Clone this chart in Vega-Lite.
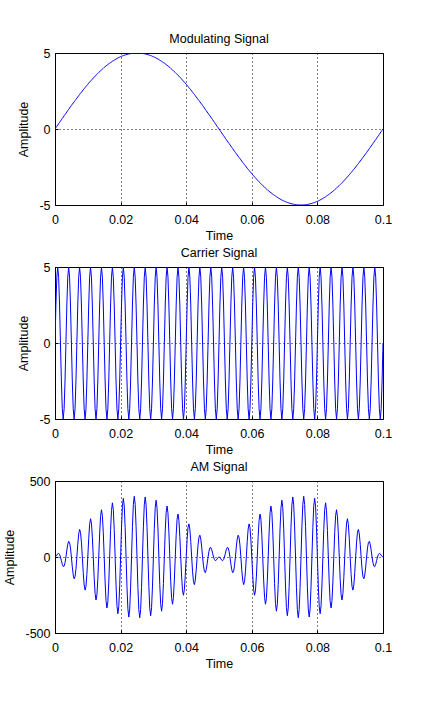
{
  "$schema": "https://vega.github.io/schema/vega-lite/v6.json",
  "description": "Modulating, carrier and AM signals",
  "padding": {"left": 3, "top": 32, "right": 5, "bottom": 5},
  "background": "white",
  "config": {
    "font": "Liberation Sans",
    "view": {"stroke": "black", "strokeWidth": 1},
    "axis": {
      "grid": true,
      "gridColor": "black",
      "gridDash": [1, 3],
      "gridOpacity": 1,
      "gridWidth": 1,
      "domain": false,
      "ticks": true,
      "tickColor": "black",
      "tickSize": -3,
      "labelFont": "Liberation Sans",
      "labelFontSize": 12.5,
      "labelColor": "black",
      "labelFlush": false,
      "titleFont": "Liberation Sans",
      "titleFontSize": 12.5,
      "titleFontWeight": "normal",
      "titleColor": "black"
    },
    "axisX": {"labelPadding": 11, "titlePadding": 4},
    "axisY": {"labelPadding": 8, "titlePadding": 8},
    "title": {"font": "Liberation Sans", "fontSize": 12.5, "fontWeight": "normal", "color": "black", "offset": 1.5, "anchor": "middle", "frame": "group"},
    "line": {"color": "#0000ff", "strokeWidth": 1}
  },
  "datasets": {
    "sig": [
      {"t":0,"mod":0,"car":0,"am":0},
      {"t":0.000278,"mod":0.09,"car":2.5,"am":3.5},
      {"t":0.000556,"mod":0.17,"car":4.33,"am":12.1},
      {"t":0.000833,"mod":0.26,"car":5,"am":20.9},
      {"t":0.001111,"mod":0.35,"car":4.33,"am":24.2},
      {"t":0.001389,"mod":0.44,"car":2.5,"am":17.4},
      {"t":0.001667,"mod":0.52,"car":0,"am":0},
      {"t":0.001944,"mod":0.61,"car":-2.5,"am":-24.4},
      {"t":0.002222,"mod":0.7,"car":-4.33,"am":-48.2},
      {"t":0.0025,"mod":0.78,"car":-5,"am":-62.6},
      {"t":0.002778,"mod":0.87,"car":-4.33,"am":-60.1},
      {"t":0.003056,"mod":0.95,"car":-2.5,"am":-38.2},
      {"t":0.003333,"mod":1.04,"car":0,"am":0},
      {"t":0.003611,"mod":1.12,"car":2.5,"am":45},
      {"t":0.003889,"mod":1.21,"car":4.33,"am":83.8},
      {"t":0.004167,"mod":1.29,"car":5,"am":103.5},
      {"t":0.004444,"mod":1.38,"car":4.33,"am":95.5},
      {"t":0.004722,"mod":1.46,"car":2.5,"am":58.5},
      {"t":0.005,"mod":1.55,"car":0,"am":0},
      {"t":0.005278,"mod":1.63,"car":-2.5,"am":-65.1},
      {"t":0.005556,"mod":1.71,"car":-4.33,"am":-118.5},
      {"t":0.005833,"mod":1.79,"car":-5,"am":-143.4},
      {"t":0.006111,"mod":1.87,"car":-4.33,"am":-129.8},
      {"t":0.006389,"mod":1.95,"car":-2.5,"am":-78.1},
      {"t":0.006667,"mod":2.03,"car":0,"am":0},
      {"t":0.006944,"mod":2.11,"car":2.5,"am":84.5},
      {"t":0.007222,"mod":2.19,"car":4.33,"am":151.9},
      {"t":0.0075,"mod":2.27,"car":5,"am":181.6},
      {"t":0.007778,"mod":2.35,"car":4.33,"am":162.6},
      {"t":0.008056,"mod":2.42,"car":2.5,"am":97},
      {"t":0.008333,"mod":2.5,"car":0,"am":0},
      {"t":0.008611,"mod":2.58,"car":-2.5,"am":-103},
      {"t":0.008889,"mod":2.65,"car":-4.33,"am":-183.6},
      {"t":0.009167,"mod":2.72,"car":-5,"am":-217.8},
      {"t":0.009444,"mod":2.8,"car":-4.33,"am":-193.7},
      {"t":0.009722,"mod":2.87,"car":-2.5,"am":-114.7},
      {"t":0.01,"mod":2.94,"car":0,"am":0},
      {"t":0.010278,"mod":3.01,"car":2.5,"am":120.4},
      {"t":0.010556,"mod":3.08,"car":4.33,"am":213.3},
      {"t":0.010833,"mod":3.15,"car":5,"am":251.7},
      {"t":0.011111,"mod":3.21,"car":4.33,"am":222.7},
      {"t":0.011389,"mod":3.28,"car":2.5,"am":131.2},
      {"t":0.011667,"mod":3.35,"car":0,"am":0},
      {"t":0.011944,"mod":3.41,"car":-2.5,"am":-136.4},
      {"t":0.012222,"mod":3.47,"car":-4.33,"am":-240.6},
      {"t":0.0125,"mod":3.54,"car":-5,"am":-282.8},
      {"t":0.012778,"mod":3.6,"car":-4.33,"am":-249.2},
      {"t":0.013056,"mod":3.66,"car":-2.5,"am":-146.3},
      {"t":0.013333,"mod":3.72,"car":0,"am":0},
      {"t":0.013611,"mod":3.77,"car":2.5,"am":150.9},
      {"t":0.013889,"mod":3.83,"car":4.33,"am":265.3},
      {"t":0.014167,"mod":3.89,"car":5,"am":310.8},
      {"t":0.014444,"mod":3.94,"car":4.33,"am":273},
      {"t":0.014722,"mod":3.99,"car":2.5,"am":159.7},
      {"t":0.015,"mod":4.05,"car":0,"am":0},
      {"t":0.015278,"mod":4.1,"car":-2.5,"am":-163.8},
      {"t":0.015556,"mod":4.15,"car":-4.33,"am":-287.2},
      {"t":0.015833,"mod":4.19,"car":-5,"am":-335.5},
      {"t":0.016111,"mod":4.24,"car":-4.33,"am":-293.7},
      {"t":0.016389,"mod":4.29,"car":-2.5,"am":-171.4},
      {"t":0.016667,"mod":4.33,"car":0,"am":0},
      {"t":0.016944,"mod":4.37,"car":2.5,"am":174.9},
      {"t":0.017222,"mod":4.41,"car":4.33,"am":305.8},
      {"t":0.0175,"mod":4.46,"car":5,"am":356.4},
      {"t":0.017778,"mod":4.49,"car":4.33,"am":311.3},
      {"t":0.018056,"mod":4.53,"car":2.5,"am":181.3},
      {"t":0.018333,"mod":4.57,"car":0,"am":0},
      {"t":0.018611,"mod":4.6,"car":-2.5,"am":-184.1},
      {"t":0.018889,"mod":4.64,"car":-4.33,"am":-321.2},
      {"t":0.019167,"mod":4.67,"car":-5,"am":-373.4},
      {"t":0.019444,"mod":4.7,"car":-4.33,"am":-325.5},
      {"t":0.019722,"mod":4.73,"car":-2.5,"am":-189.1},
      {"t":0.02,"mod":4.76,"car":0,"am":0},
      {"t":0.020278,"mod":4.78,"car":2.5,"am":191.3},
      {"t":0.020556,"mod":4.81,"car":4.33,"am":333},
      {"t":0.020833,"mod":4.83,"car":5,"am":386.4},
      {"t":0.021111,"mod":4.85,"car":4.33,"am":336.1},
      {"t":0.021389,"mod":4.87,"car":2.5,"am":194.9},
      {"t":0.021667,"mod":4.89,"car":0,"am":0},
      {"t":0.021944,"mod":4.91,"car":-2.5,"am":-196.3},
      {"t":0.022222,"mod":4.92,"car":-4.33,"am":-341.1},
      {"t":0.0225,"mod":4.94,"car":-5,"am":-395.1},
      {"t":0.022778,"mod":4.95,"car":-4.33,"am":-343},
      {"t":0.023056,"mod":4.96,"car":-2.5,"am":-198.5},
      {"t":0.023333,"mod":4.97,"car":0,"am":0},
      {"t":0.023611,"mod":4.98,"car":2.5,"am":199.2},
      {"t":0.023889,"mod":4.99,"car":4.33,"am":345.6},
      {"t":0.024167,"mod":4.99,"car":5,"am":399.4},
      {"t":0.024444,"mod":5,"car":4.33,"am":346.2},
      {"t":0.024722,"mod":5,"car":2.5,"am":200},
      {"t":0.025,"mod":5,"car":0,"am":0},
      {"t":0.025278,"mod":5,"car":-2.5,"am":-200},
      {"t":0.025556,"mod":5,"car":-4.33,"am":-346.2},
      {"t":0.025833,"mod":4.99,"car":-5,"am":-399.4},
      {"t":0.026111,"mod":4.99,"car":-4.33,"am":-345.6},
      {"t":0.026389,"mod":4.98,"car":-2.5,"am":-199.2},
      {"t":0.026667,"mod":4.97,"car":0,"am":0},
      {"t":0.026944,"mod":4.96,"car":2.5,"am":198.5},
      {"t":0.027222,"mod":4.95,"car":4.33,"am":343},
      {"t":0.0275,"mod":4.94,"car":5,"am":395.1},
      {"t":0.027778,"mod":4.92,"car":4.33,"am":341.1},
      {"t":0.028056,"mod":4.91,"car":2.5,"am":196.3},
      {"t":0.028333,"mod":4.89,"car":0,"am":0},
      {"t":0.028611,"mod":4.87,"car":-2.5,"am":-194.9},
      {"t":0.028889,"mod":4.85,"car":-4.33,"am":-336.1},
      {"t":0.029167,"mod":4.83,"car":-5,"am":-386.4},
      {"t":0.029444,"mod":4.81,"car":-4.33,"am":-333},
      {"t":0.029722,"mod":4.78,"car":-2.5,"am":-191.3},
      {"t":0.03,"mod":4.76,"car":0,"am":0},
      {"t":0.030278,"mod":4.73,"car":2.5,"am":189.1},
      {"t":0.030556,"mod":4.7,"car":4.33,"am":325.5},
      {"t":0.030833,"mod":4.67,"car":5,"am":373.4},
      {"t":0.031111,"mod":4.64,"car":4.33,"am":321.2},
      {"t":0.031389,"mod":4.6,"car":2.5,"am":184.1},
      {"t":0.031667,"mod":4.57,"car":0,"am":0},
      {"t":0.031944,"mod":4.53,"car":-2.5,"am":-181.3},
      {"t":0.032222,"mod":4.49,"car":-4.33,"am":-311.3},
      {"t":0.0325,"mod":4.46,"car":-5,"am":-356.4},
      {"t":0.032778,"mod":4.41,"car":-4.33,"am":-305.8},
      {"t":0.033056,"mod":4.37,"car":-2.5,"am":-174.9},
      {"t":0.033333,"mod":4.33,"car":0,"am":0},
      {"t":0.033611,"mod":4.29,"car":2.5,"am":171.4},
      {"t":0.033889,"mod":4.24,"car":4.33,"am":293.7},
      {"t":0.034167,"mod":4.19,"car":5,"am":335.5},
      {"t":0.034444,"mod":4.15,"car":4.33,"am":287.2},
      {"t":0.034722,"mod":4.1,"car":2.5,"am":163.8},
      {"t":0.035,"mod":4.05,"car":0,"am":0},
      {"t":0.035278,"mod":3.99,"car":-2.5,"am":-159.7},
      {"t":0.035556,"mod":3.94,"car":-4.33,"am":-273},
      {"t":0.035833,"mod":3.89,"car":-5,"am":-310.8},
      {"t":0.036111,"mod":3.83,"car":-4.33,"am":-265.3},
      {"t":0.036389,"mod":3.77,"car":-2.5,"am":-150.9},
      {"t":0.036667,"mod":3.72,"car":0,"am":0},
      {"t":0.036944,"mod":3.66,"car":2.5,"am":146.3},
      {"t":0.037222,"mod":3.6,"car":4.33,"am":249.2},
      {"t":0.0375,"mod":3.54,"car":5,"am":282.8},
      {"t":0.037778,"mod":3.47,"car":4.33,"am":240.6},
      {"t":0.038056,"mod":3.41,"car":2.5,"am":136.4},
      {"t":0.038333,"mod":3.35,"car":0,"am":0},
      {"t":0.038611,"mod":3.28,"car":-2.5,"am":-131.2},
      {"t":0.038889,"mod":3.21,"car":-4.33,"am":-222.7},
      {"t":0.039167,"mod":3.15,"car":-5,"am":-251.7},
      {"t":0.039444,"mod":3.08,"car":-4.33,"am":-213.3},
      {"t":0.039722,"mod":3.01,"car":-2.5,"am":-120.4},
      {"t":0.04,"mod":2.94,"car":0,"am":0},
      {"t":0.040278,"mod":2.87,"car":2.5,"am":114.7},
      {"t":0.040556,"mod":2.8,"car":4.33,"am":193.7},
      {"t":0.040833,"mod":2.72,"car":5,"am":217.8},
      {"t":0.041111,"mod":2.65,"car":4.33,"am":183.6},
      {"t":0.041389,"mod":2.58,"car":2.5,"am":103},
      {"t":0.041667,"mod":2.5,"car":0,"am":0},
      {"t":0.041944,"mod":2.42,"car":-2.5,"am":-97},
      {"t":0.042222,"mod":2.35,"car":-4.33,"am":-162.6},
      {"t":0.0425,"mod":2.27,"car":-5,"am":-181.6},
      {"t":0.042778,"mod":2.19,"car":-4.33,"am":-151.9},
      {"t":0.043056,"mod":2.11,"car":-2.5,"am":-84.5},
      {"t":0.043333,"mod":2.03,"car":0,"am":0},
      {"t":0.043611,"mod":1.95,"car":2.5,"am":78.1},
      {"t":0.043889,"mod":1.87,"car":4.33,"am":129.8},
      {"t":0.044167,"mod":1.79,"car":5,"am":143.4},
      {"t":0.044444,"mod":1.71,"car":4.33,"am":118.5},
      {"t":0.044722,"mod":1.63,"car":2.5,"am":65.1},
      {"t":0.045,"mod":1.55,"car":0,"am":0},
      {"t":0.045278,"mod":1.46,"car":-2.5,"am":-58.5},
      {"t":0.045556,"mod":1.38,"car":-4.33,"am":-95.5},
      {"t":0.045833,"mod":1.29,"car":-5,"am":-103.5},
      {"t":0.046111,"mod":1.21,"car":-4.33,"am":-83.8},
      {"t":0.046389,"mod":1.12,"car":-2.5,"am":-45},
      {"t":0.046667,"mod":1.04,"car":0,"am":0},
      {"t":0.046944,"mod":0.95,"car":2.5,"am":38.2},
      {"t":0.047222,"mod":0.87,"car":4.33,"am":60.1},
      {"t":0.0475,"mod":0.78,"car":5,"am":62.6},
      {"t":0.047778,"mod":0.7,"car":4.33,"am":48.2},
      {"t":0.048056,"mod":0.61,"car":2.5,"am":24.4},
      {"t":0.048333,"mod":0.52,"car":0,"am":0},
      {"t":0.048611,"mod":0.44,"car":-2.5,"am":-17.4},
      {"t":0.048889,"mod":0.35,"car":-4.33,"am":-24.2},
      {"t":0.049167,"mod":0.26,"car":-5,"am":-20.9},
      {"t":0.049444,"mod":0.17,"car":-4.33,"am":-12.1},
      {"t":0.049722,"mod":0.09,"car":-2.5,"am":-3.5},
      {"t":0.05,"mod":0,"car":0,"am":0},
      {"t":0.050278,"mod":-0.09,"car":2.5,"am":-3.5},
      {"t":0.050556,"mod":-0.17,"car":4.33,"am":-12.1},
      {"t":0.050833,"mod":-0.26,"car":5,"am":-20.9},
      {"t":0.051111,"mod":-0.35,"car":4.33,"am":-24.2},
      {"t":0.051389,"mod":-0.44,"car":2.5,"am":-17.4},
      {"t":0.051667,"mod":-0.52,"car":0,"am":0},
      {"t":0.051944,"mod":-0.61,"car":-2.5,"am":24.4},
      {"t":0.052222,"mod":-0.7,"car":-4.33,"am":48.2},
      {"t":0.0525,"mod":-0.78,"car":-5,"am":62.6},
      {"t":0.052778,"mod":-0.87,"car":-4.33,"am":60.1},
      {"t":0.053056,"mod":-0.95,"car":-2.5,"am":38.2},
      {"t":0.053333,"mod":-1.04,"car":0,"am":0},
      {"t":0.053611,"mod":-1.12,"car":2.5,"am":-45},
      {"t":0.053889,"mod":-1.21,"car":4.33,"am":-83.8},
      {"t":0.054167,"mod":-1.29,"car":5,"am":-103.5},
      {"t":0.054444,"mod":-1.38,"car":4.33,"am":-95.5},
      {"t":0.054722,"mod":-1.46,"car":2.5,"am":-58.5},
      {"t":0.055,"mod":-1.55,"car":0,"am":0},
      {"t":0.055278,"mod":-1.63,"car":-2.5,"am":65.1},
      {"t":0.055556,"mod":-1.71,"car":-4.33,"am":118.5},
      {"t":0.055833,"mod":-1.79,"car":-5,"am":143.4},
      {"t":0.056111,"mod":-1.87,"car":-4.33,"am":129.8},
      {"t":0.056389,"mod":-1.95,"car":-2.5,"am":78.1},
      {"t":0.056667,"mod":-2.03,"car":0,"am":0},
      {"t":0.056944,"mod":-2.11,"car":2.5,"am":-84.5},
      {"t":0.057222,"mod":-2.19,"car":4.33,"am":-151.9},
      {"t":0.0575,"mod":-2.27,"car":5,"am":-181.6},
      {"t":0.057778,"mod":-2.35,"car":4.33,"am":-162.6},
      {"t":0.058056,"mod":-2.42,"car":2.5,"am":-97},
      {"t":0.058333,"mod":-2.5,"car":0,"am":0},
      {"t":0.058611,"mod":-2.58,"car":-2.5,"am":103},
      {"t":0.058889,"mod":-2.65,"car":-4.33,"am":183.6},
      {"t":0.059167,"mod":-2.72,"car":-5,"am":217.8},
      {"t":0.059444,"mod":-2.8,"car":-4.33,"am":193.7},
      {"t":0.059722,"mod":-2.87,"car":-2.5,"am":114.7},
      {"t":0.06,"mod":-2.94,"car":0,"am":0},
      {"t":0.060278,"mod":-3.01,"car":2.5,"am":-120.4},
      {"t":0.060556,"mod":-3.08,"car":4.33,"am":-213.3},
      {"t":0.060833,"mod":-3.15,"car":5,"am":-251.7},
      {"t":0.061111,"mod":-3.21,"car":4.33,"am":-222.7},
      {"t":0.061389,"mod":-3.28,"car":2.5,"am":-131.2},
      {"t":0.061667,"mod":-3.35,"car":0,"am":0},
      {"t":0.061944,"mod":-3.41,"car":-2.5,"am":136.4},
      {"t":0.062222,"mod":-3.47,"car":-4.33,"am":240.6},
      {"t":0.0625,"mod":-3.54,"car":-5,"am":282.8},
      {"t":0.062778,"mod":-3.6,"car":-4.33,"am":249.2},
      {"t":0.063056,"mod":-3.66,"car":-2.5,"am":146.3},
      {"t":0.063333,"mod":-3.72,"car":0,"am":0},
      {"t":0.063611,"mod":-3.77,"car":2.5,"am":-150.9},
      {"t":0.063889,"mod":-3.83,"car":4.33,"am":-265.3},
      {"t":0.064167,"mod":-3.89,"car":5,"am":-310.8},
      {"t":0.064444,"mod":-3.94,"car":4.33,"am":-273},
      {"t":0.064722,"mod":-3.99,"car":2.5,"am":-159.7},
      {"t":0.065,"mod":-4.05,"car":0,"am":0},
      {"t":0.065278,"mod":-4.1,"car":-2.5,"am":163.8},
      {"t":0.065556,"mod":-4.15,"car":-4.33,"am":287.2},
      {"t":0.065833,"mod":-4.19,"car":-5,"am":335.5},
      {"t":0.066111,"mod":-4.24,"car":-4.33,"am":293.7},
      {"t":0.066389,"mod":-4.29,"car":-2.5,"am":171.4},
      {"t":0.066667,"mod":-4.33,"car":0,"am":0},
      {"t":0.066944,"mod":-4.37,"car":2.5,"am":-174.9},
      {"t":0.067222,"mod":-4.41,"car":4.33,"am":-305.8},
      {"t":0.0675,"mod":-4.46,"car":5,"am":-356.4},
      {"t":0.067778,"mod":-4.49,"car":4.33,"am":-311.3},
      {"t":0.068056,"mod":-4.53,"car":2.5,"am":-181.3},
      {"t":0.068333,"mod":-4.57,"car":0,"am":0},
      {"t":0.068611,"mod":-4.6,"car":-2.5,"am":184.1},
      {"t":0.068889,"mod":-4.64,"car":-4.33,"am":321.2},
      {"t":0.069167,"mod":-4.67,"car":-5,"am":373.4},
      {"t":0.069444,"mod":-4.7,"car":-4.33,"am":325.5},
      {"t":0.069722,"mod":-4.73,"car":-2.5,"am":189.1},
      {"t":0.07,"mod":-4.76,"car":0,"am":0},
      {"t":0.070278,"mod":-4.78,"car":2.5,"am":-191.3},
      {"t":0.070556,"mod":-4.81,"car":4.33,"am":-333},
      {"t":0.070833,"mod":-4.83,"car":5,"am":-386.4},
      {"t":0.071111,"mod":-4.85,"car":4.33,"am":-336.1},
      {"t":0.071389,"mod":-4.87,"car":2.5,"am":-194.9},
      {"t":0.071667,"mod":-4.89,"car":0,"am":0},
      {"t":0.071944,"mod":-4.91,"car":-2.5,"am":196.3},
      {"t":0.072222,"mod":-4.92,"car":-4.33,"am":341.1},
      {"t":0.0725,"mod":-4.94,"car":-5,"am":395.1},
      {"t":0.072778,"mod":-4.95,"car":-4.33,"am":343},
      {"t":0.073056,"mod":-4.96,"car":-2.5,"am":198.5},
      {"t":0.073333,"mod":-4.97,"car":0,"am":0},
      {"t":0.073611,"mod":-4.98,"car":2.5,"am":-199.2},
      {"t":0.073889,"mod":-4.99,"car":4.33,"am":-345.6},
      {"t":0.074167,"mod":-4.99,"car":5,"am":-399.4},
      {"t":0.074444,"mod":-5,"car":4.33,"am":-346.2},
      {"t":0.074722,"mod":-5,"car":2.5,"am":-200},
      {"t":0.075,"mod":-5,"car":0,"am":0},
      {"t":0.075278,"mod":-5,"car":-2.5,"am":200},
      {"t":0.075556,"mod":-5,"car":-4.33,"am":346.2},
      {"t":0.075833,"mod":-4.99,"car":-5,"am":399.4},
      {"t":0.076111,"mod":-4.99,"car":-4.33,"am":345.6},
      {"t":0.076389,"mod":-4.98,"car":-2.5,"am":199.2},
      {"t":0.076667,"mod":-4.97,"car":0,"am":0},
      {"t":0.076944,"mod":-4.96,"car":2.5,"am":-198.5},
      {"t":0.077222,"mod":-4.95,"car":4.33,"am":-343},
      {"t":0.0775,"mod":-4.94,"car":5,"am":-395.1},
      {"t":0.077778,"mod":-4.92,"car":4.33,"am":-341.1},
      {"t":0.078056,"mod":-4.91,"car":2.5,"am":-196.3},
      {"t":0.078333,"mod":-4.89,"car":0,"am":0},
      {"t":0.078611,"mod":-4.87,"car":-2.5,"am":194.9},
      {"t":0.078889,"mod":-4.85,"car":-4.33,"am":336.1},
      {"t":0.079167,"mod":-4.83,"car":-5,"am":386.4},
      {"t":0.079444,"mod":-4.81,"car":-4.33,"am":333},
      {"t":0.079722,"mod":-4.78,"car":-2.5,"am":191.3},
      {"t":0.08,"mod":-4.76,"car":0,"am":0},
      {"t":0.080278,"mod":-4.73,"car":2.5,"am":-189.1},
      {"t":0.080556,"mod":-4.7,"car":4.33,"am":-325.5},
      {"t":0.080833,"mod":-4.67,"car":5,"am":-373.4},
      {"t":0.081111,"mod":-4.64,"car":4.33,"am":-321.2},
      {"t":0.081389,"mod":-4.6,"car":2.5,"am":-184.1},
      {"t":0.081667,"mod":-4.57,"car":0,"am":0},
      {"t":0.081944,"mod":-4.53,"car":-2.5,"am":181.3},
      {"t":0.082222,"mod":-4.49,"car":-4.33,"am":311.3},
      {"t":0.0825,"mod":-4.46,"car":-5,"am":356.4},
      {"t":0.082778,"mod":-4.41,"car":-4.33,"am":305.8},
      {"t":0.083056,"mod":-4.37,"car":-2.5,"am":174.9},
      {"t":0.083333,"mod":-4.33,"car":0,"am":0},
      {"t":0.083611,"mod":-4.29,"car":2.5,"am":-171.4},
      {"t":0.083889,"mod":-4.24,"car":4.33,"am":-293.7},
      {"t":0.084167,"mod":-4.19,"car":5,"am":-335.5},
      {"t":0.084444,"mod":-4.15,"car":4.33,"am":-287.2},
      {"t":0.084722,"mod":-4.1,"car":2.5,"am":-163.8},
      {"t":0.085,"mod":-4.05,"car":0,"am":0},
      {"t":0.085278,"mod":-3.99,"car":-2.5,"am":159.7},
      {"t":0.085556,"mod":-3.94,"car":-4.33,"am":273},
      {"t":0.085833,"mod":-3.89,"car":-5,"am":310.8},
      {"t":0.086111,"mod":-3.83,"car":-4.33,"am":265.3},
      {"t":0.086389,"mod":-3.77,"car":-2.5,"am":150.9},
      {"t":0.086667,"mod":-3.72,"car":0,"am":0},
      {"t":0.086944,"mod":-3.66,"car":2.5,"am":-146.3},
      {"t":0.087222,"mod":-3.6,"car":4.33,"am":-249.2},
      {"t":0.0875,"mod":-3.54,"car":5,"am":-282.8},
      {"t":0.087778,"mod":-3.47,"car":4.33,"am":-240.6},
      {"t":0.088056,"mod":-3.41,"car":2.5,"am":-136.4},
      {"t":0.088333,"mod":-3.35,"car":0,"am":0},
      {"t":0.088611,"mod":-3.28,"car":-2.5,"am":131.2},
      {"t":0.088889,"mod":-3.21,"car":-4.33,"am":222.7},
      {"t":0.089167,"mod":-3.15,"car":-5,"am":251.7},
      {"t":0.089444,"mod":-3.08,"car":-4.33,"am":213.3},
      {"t":0.089722,"mod":-3.01,"car":-2.5,"am":120.4},
      {"t":0.09,"mod":-2.94,"car":0,"am":0},
      {"t":0.090278,"mod":-2.87,"car":2.5,"am":-114.7},
      {"t":0.090556,"mod":-2.8,"car":4.33,"am":-193.7},
      {"t":0.090833,"mod":-2.72,"car":5,"am":-217.8},
      {"t":0.091111,"mod":-2.65,"car":4.33,"am":-183.6},
      {"t":0.091389,"mod":-2.58,"car":2.5,"am":-103},
      {"t":0.091667,"mod":-2.5,"car":0,"am":0},
      {"t":0.091944,"mod":-2.42,"car":-2.5,"am":97},
      {"t":0.092222,"mod":-2.35,"car":-4.33,"am":162.6},
      {"t":0.0925,"mod":-2.27,"car":-5,"am":181.6},
      {"t":0.092778,"mod":-2.19,"car":-4.33,"am":151.9},
      {"t":0.093056,"mod":-2.11,"car":-2.5,"am":84.5},
      {"t":0.093333,"mod":-2.03,"car":0,"am":0},
      {"t":0.093611,"mod":-1.95,"car":2.5,"am":-78.1},
      {"t":0.093889,"mod":-1.87,"car":4.33,"am":-129.8},
      {"t":0.094167,"mod":-1.79,"car":5,"am":-143.4},
      {"t":0.094444,"mod":-1.71,"car":4.33,"am":-118.5},
      {"t":0.094722,"mod":-1.63,"car":2.5,"am":-65.1},
      {"t":0.095,"mod":-1.55,"car":0,"am":0},
      {"t":0.095278,"mod":-1.46,"car":-2.5,"am":58.5},
      {"t":0.095556,"mod":-1.38,"car":-4.33,"am":95.5},
      {"t":0.095833,"mod":-1.29,"car":-5,"am":103.5},
      {"t":0.096111,"mod":-1.21,"car":-4.33,"am":83.8},
      {"t":0.096389,"mod":-1.12,"car":-2.5,"am":45},
      {"t":0.096667,"mod":-1.04,"car":0,"am":0},
      {"t":0.096944,"mod":-0.95,"car":2.5,"am":-38.2},
      {"t":0.097222,"mod":-0.87,"car":4.33,"am":-60.1},
      {"t":0.0975,"mod":-0.78,"car":5,"am":-62.6},
      {"t":0.097778,"mod":-0.7,"car":4.33,"am":-48.2},
      {"t":0.098056,"mod":-0.61,"car":2.5,"am":-24.4},
      {"t":0.098333,"mod":-0.52,"car":0,"am":0},
      {"t":0.098611,"mod":-0.44,"car":-2.5,"am":17.4},
      {"t":0.098889,"mod":-0.35,"car":-4.33,"am":24.2},
      {"t":0.099167,"mod":-0.26,"car":-5,"am":20.9},
      {"t":0.099444,"mod":-0.17,"car":-4.33,"am":12.1},
      {"t":0.099722,"mod":-0.09,"car":-2.5,"am":3.5},
      {"t":0.1,"mod":0,"car":0,"am":0}
    ]
  },
  "bounds": "flush",
  "spacing": 62,
  "vconcat": [
    {
      "title": "Modulating Signal",
      "width": 328,
      "height": 152,
      "data": {"name": "sig"},
      "mark": {"type": "line", "clip": true},
      "encoding": {
        "x": {
          "field": "t",
          "type": "quantitative",
          "scale": {"domain": [0, 0.1], "nice": false},
          "axis": {"title": "Time", "values": [0, 0.02, 0.04, 0.06, 0.08, 0.1], "labelExpr": "'' + datum.value"}
        },
        "y": {
          "field": "mod",
          "type": "quantitative",
          "scale": {"domain": [-5, 5], "nice": false},
          "axis": {"title": "Amplitude", "values": [-5, 0, 5], "labelExpr": "'' + datum.value"}
        }
      }
    },
    {
      "title": "Carrier Signal",
      "width": 328,
      "height": 152,
      "data": {"name": "sig"},
      "mark": {"type": "line", "clip": true},
      "encoding": {
        "x": {
          "field": "t",
          "type": "quantitative",
          "scale": {"domain": [0, 0.1], "nice": false},
          "axis": {"title": "Time", "values": [0, 0.02, 0.04, 0.06, 0.08, 0.1], "labelExpr": "'' + datum.value"}
        },
        "y": {
          "field": "car",
          "type": "quantitative",
          "scale": {"domain": [-5, 5], "nice": false},
          "axis": {"title": "Amplitude", "values": [-5, 0, 5], "labelExpr": "'' + datum.value"}
        }
      }
    },
    {
      "title": "AM Signal",
      "width": 328,
      "height": 152,
      "data": {"name": "sig"},
      "mark": {"type": "line", "clip": true},
      "encoding": {
        "x": {
          "field": "t",
          "type": "quantitative",
          "scale": {"domain": [0, 0.1], "nice": false},
          "axis": {"title": "Time", "values": [0, 0.02, 0.04, 0.06, 0.08, 0.1], "labelExpr": "'' + datum.value"}
        },
        "y": {
          "field": "am",
          "type": "quantitative",
          "scale": {"domain": [-500, 500], "nice": false},
          "axis": {"title": "Amplitude", "values": [-500, 0, 500], "labelExpr": "'' + datum.value", "titlePadding": 8}
        }
      }
    }
  ]
}
